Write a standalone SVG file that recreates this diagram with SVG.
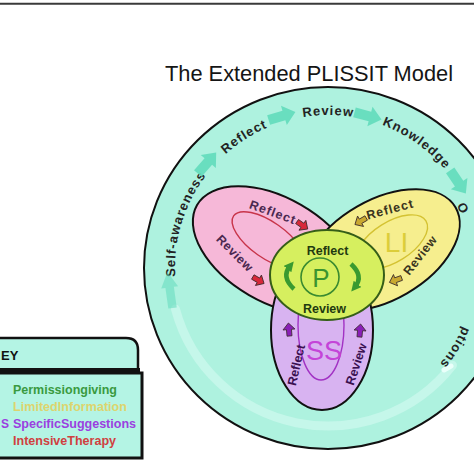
<svg xmlns="http://www.w3.org/2000/svg" width="474" height="474" viewBox="0 0 474 474">
<style>
.ring{font-family:"Liberation Sans",Arial,sans-serif;font-weight:bold;font-size:13px;fill:#232323;letter-spacing:1px}
.lab{font-family:"Liberation Sans",Arial,sans-serif;font-weight:bold;font-size:12.5px;text-anchor:middle}
.key{font-family:"Liberation Sans",Arial,sans-serif;font-weight:bold;font-size:12px}
.big{font-family:"Liberation Sans",Arial,sans-serif;text-anchor:middle}
.edge{stroke:#111;stroke-width:2}
.rarrow{fill:#62dbbb}
.sarrow{stroke:#3a2a2a;stroke-width:0.8}
.loop{fill:none;stroke-width:1.4}
</style>
<defs>
<path id="ringPath" d="M328,421 A153,153 0 1 1 328,115 A153,153 0 1 1 328,421"/>
<path id="ringPath2" d="M328,415 A147,147 0 1 1 328,121 A147,147 0 1 1 328,415"/>
<path id="bigArrow" d="M-14,-5 H2 V-10 L14,0 L2,10 V5 H-14 Z"/>
<path id="smallArrow" d="M-6,-2.5 H0.5 V-6 L7,0 L0.5,6 V2.5 H-6 Z"/>
<marker id="gh" viewBox="0 0 10 10" refX="4" refY="5" markerWidth="2.2" markerHeight="2.2" orient="auto">
<path d="M0,0 L10,5 L0,10 Z" fill="#3a9a30"/>
</marker>
</defs>
<rect width="474" height="474" fill="#ffffff"/>
<line x1="0" y1="3.7" x2="474" y2="3.7" stroke="#3a3a3a" stroke-width="2"/>

<g id="title">
<text x="309" y="81" class="big" font-size="22" fill="#151515" textLength="288" lengthAdjust="spacingAndGlyphs">The Extended PLISSIT Model</text>
</g>

<g id="ring">
<ellipse cx="328" cy="268" rx="184" ry="181" fill="#aef2df" class="edge"/>
<path d="M452.5,365.3 A158,158 0 0 1 175.4,308.9" fill="none" stroke="#cbf8ec" stroke-width="9" stroke-linecap="round" opacity="0.8"/>
<path d="M444,370 L451,366" stroke="#eafffa" stroke-width="5" stroke-linecap="round"/>
<text class="ring" letter-spacing="0.3"><textPath href="#ringPath" startOffset="285.7" text-anchor="middle">Self-awareness</textPath></text>
<text class="ring"><textPath href="#ringPath" startOffset="393.6" text-anchor="middle">Reflect</textPath></text>
<text class="ring"><textPath href="#ringPath" startOffset="480.7" text-anchor="middle">Review</textPath></text>
<text class="ring"><textPath href="#ringPath" startOffset="574.7" text-anchor="middle">Knowledge</textPath></text>
<text class="ring" letter-spacing="0" text-anchor="middle" transform="translate(459 210) rotate(66)">O</text>
<text class="ring"><textPath href="#ringPath2" startOffset="774.8" text-anchor="middle">ptions</textPath></text>
</g>

<g id="IT">
<ellipse cx="275" cy="250" rx="90" ry="52" transform="rotate(30 275 250)" fill="#f6b8d8" class="edge"/>
<ellipse cx="268" cy="240" rx="42" ry="18" transform="rotate(35 268 240)" class="loop" stroke="#c8344a"/>
<text class="lab" x="273" y="216.5" fill="#4a2850" letter-spacing="1" transform="rotate(20 273 212)">Reflect</text>
<text class="lab" x="235" y="257.5" fill="#4a2850" font-size="12" letter-spacing="0.5" transform="rotate(45 235 253)">Review</text>
</g>

<g id="LI">
<ellipse cx="382" cy="250" rx="85" ry="50" transform="rotate(-30 382 250)" fill="#f6ee8e" class="edge"/>
<ellipse cx="392" cy="242" rx="40" ry="20" transform="rotate(-32 392 242)" class="loop" stroke="#d4c232"/>
<text class="big" x="396.5" y="252" font-size="28" fill="#dccd3a">LI</text>
<text class="lab" x="390" y="213.5" fill="#3a3520" letter-spacing="1" transform="rotate(-15 390 209)">Reflect</text>
<text class="lab" x="420" y="259.5" fill="#3a3520" font-size="12" letter-spacing="0.5" transform="rotate(-52 420 255)">Review</text>
</g>

<g id="SS">
<ellipse cx="322" cy="330" rx="51" ry="80" fill="#d8b3f1" class="edge"/>
<ellipse cx="321" cy="325" rx="23" ry="55" class="loop" stroke="#a232c4"/>
<text class="big" x="324" y="360" font-size="27" fill="#c444d8">SS</text>
<text class="lab" x="296" y="369.5" fill="#3a1050" font-size="12" transform="rotate(-77 296 365)">Reflect</text>
<text class="lab" x="356" y="368.5" fill="#3a1050" font-size="12" transform="rotate(-72 356 364)">Review</text>
</g>

<g id="P">
<ellipse cx="327" cy="275" rx="57" ry="45" fill="#d6ef5f" stroke="#355e18" stroke-width="2"/>
<circle cx="320" cy="277" r="19" fill="none" stroke="#3a8a30" stroke-width="1.6"/>
<text class="big" x="321" y="286.5" font-size="26" fill="#3a9430">P</text>
<text class="lab" x="327.5" y="255" fill="#1f3a10" font-size="13">Reflect</text>
<text class="lab" x="324.5" y="313" fill="#1f3a10" font-size="13">Review</text>
</g>

<g id="connectors">
<use href="#bigArrow" class="rarrow" opacity="0.55" transform="translate(170 290) rotate(-98) scale(1.3 0.85)"/>
<use href="#bigArrow" class="rarrow" opacity="0.9" transform="translate(207 163) rotate(-49)"/>
<use href="#bigArrow" class="rarrow" opacity="0.9" transform="translate(282 116) rotate(-17)"/>
<use href="#bigArrow" class="rarrow" opacity="0.9" transform="translate(368 116) rotate(15)"/>
<use href="#bigArrow" class="rarrow" opacity="0.9" transform="translate(458 182) rotate(56)"/>
<use href="#smallArrow" class="sarrow" fill="#d8283a" transform="translate(302 225) rotate(35)"/>
<use href="#smallArrow" class="sarrow" fill="#d8283a" transform="translate(258 280) rotate(30)"/>
<use href="#smallArrow" class="sarrow" fill="#c9a830" transform="translate(361 221) rotate(150)"/>
<use href="#smallArrow" class="sarrow" fill="#c9a830" transform="translate(396 280) rotate(160)"/>
<use href="#smallArrow" class="sarrow" fill="#8a1fb8" transform="translate(289 330) rotate(-95)"/>
<use href="#smallArrow" class="sarrow" fill="#8a1fb8" transform="translate(360 331) rotate(-85)"/>
<path d="M294,289 Q281,277 290,266" fill="none" stroke="#3a9a30" stroke-width="4.5" marker-end="url(#gh)"/>
<path d="M351,264 Q364,276 355,287" fill="none" stroke="#3a9a30" stroke-width="4.5" marker-end="url(#gh)"/>
</g>

<g id="key">
<path d="M-5,338 H126 Q138,338 138,350 V370 H-5 Z" fill="#b4f4e4" stroke="#111" stroke-width="2.5"/>
<rect x="-5" y="373" width="147" height="85" fill="#b4f4e4" stroke="#111" stroke-width="3"/>
<rect x="-5" y="368" width="145" height="6" fill="#111"/>
<text x="1" y="360" font-family="Liberation Sans, Arial, sans-serif" font-weight="bold" font-size="13" fill="#111">EY</text>
<text class="key" x="1" y="428" fill="#9a40e0">S</text>
<text class="key" x="13" y="394" fill="#3a9a40" textLength="104" lengthAdjust="spacingAndGlyphs">Permissiongiving</text>
<text class="key" x="13" y="411" fill="#ddd46e" textLength="114" lengthAdjust="spacingAndGlyphs">LimitedInformation</text>
<text class="key" x="13" y="428" fill="#9a40e0" textLength="123" lengthAdjust="spacingAndGlyphs">SpecificSuggestions</text>
<text class="key" x="13" y="445" fill="#d04040" textLength="103" lengthAdjust="spacingAndGlyphs">IntensiveTherapy</text>
</g>
</svg>
